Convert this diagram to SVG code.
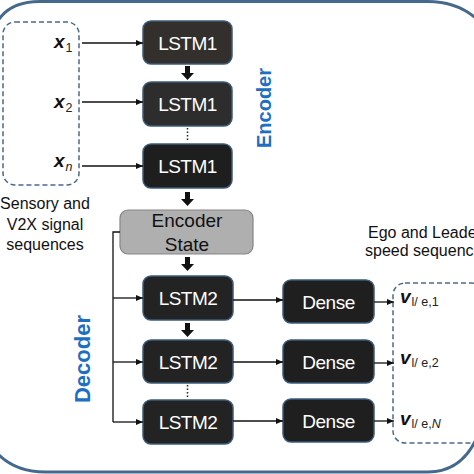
<svg xmlns="http://www.w3.org/2000/svg" width="474" height="474" viewBox="0 0 474 474">
<style>
.frame{fill:none;stroke:#45698c;stroke-width:3}
.dash{fill:none;stroke:#4a6a8a;stroke-width:1.5;stroke-dasharray:5,3}
.blk{stroke:#3b5c7c;stroke-width:1.5}
.bt{font-family:"Liberation Sans",Arial,sans-serif;font-size:19px;fill:#ffffff;text-anchor:middle;letter-spacing:-0.5px}
.st{font-family:"Liberation Sans",Arial,sans-serif;font-size:19px;fill:#111;text-anchor:middle}
.lbl{font-family:"Liberation Sans",Arial,sans-serif;font-size:16px;fill:#111;text-anchor:middle}
.lbl2{font-family:"Liberation Sans",Arial,sans-serif;font-size:16px;fill:#111}
.vx{font-family:"Liberation Sans",Arial,sans-serif;font-weight:bold;font-style:italic;font-size:19px;fill:#111}
.sub{font-size:12.5px;font-weight:normal;font-style:normal;fill:#222}
.subi{font-style:italic}
.blue{font-family:"Liberation Sans",Arial,sans-serif;font-weight:bold;fill:#1d6fc1;text-anchor:middle}
.ln{fill:none;stroke:#111;stroke-width:1.3}
.dot{fill:none;stroke:#222;stroke-width:1.5;stroke-dasharray:1.5,2}
</style>
<defs>
<marker id="ah" markerWidth="8" markerHeight="8" refX="7" refY="4" orient="auto" markerUnits="userSpaceOnUse">
<path d="M0,1 L7,4 L0,7 Z" fill="#111"/>
</marker>
<path id="thick" d="M-2.5,0 H2.5 V7 H6.5 L0,14 L-6.5,7 H-2.5 Z" fill="#111"/>
</defs>

<path class="frame" d="M-4,24 C4,9 18,1.5 40,1.5 L428,1.5 C450,1.5 466,8 480,22 L480,430 C470,458 452,472 428,472 L45,472 C24,472 8,465 -4,452 Z"/>

<g id="inputs">
<rect class="dash" x="3" y="22" width="76" height="163" rx="12"/>
<text class="vx" x="54" y="48">x<tspan class="sub" dx="1" dy="3.5">1</tspan></text>
<text class="vx" x="54" y="108">x<tspan class="sub" dx="1" dy="3.5">2</tspan></text>
<text class="vx" x="54" y="167">x<tspan class="sub subi" dx="1" dy="3.5">n</tspan></text>
<text class="lbl" x="45" y="209">Sensory and</text>
<text class="lbl" x="45" y="230">V2X signal</text>
<text class="lbl" x="45" y="250">sequences</text>
</g>

<g id="lstm1-1"><rect class="blk" x="143" y="21" width="89" height="43" rx="8" fill="#332f2d"/><text class="bt" x="187.5" y="49.5">LSTM1</text></g>
<g id="lstm1-2"><rect class="blk" x="143" y="82" width="89" height="44" rx="8" fill="#2d2d2d"/><text class="bt" x="187.5" y="111">LSTM1</text></g>
<g id="lstm1-n"><rect class="blk" x="143" y="144" width="89" height="44" rx="8" fill="#1e1e1e"/><text class="bt" x="187.5" y="173">LSTM1</text></g>
<g id="encoder-label"><text class="blue" font-size="20" transform="translate(271,108) rotate(-90)">Encoder</text></g>

<g id="encoder-state"><rect x="120" y="210" width="133" height="44" rx="8" fill="#afafaf" stroke="#858585" stroke-width="1.2"/><text class="st" x="187" y="227">Encoder</text><text class="st" x="187" y="251">State</text></g>

<g id="lstm2-1"><rect class="blk" x="143" y="276" width="90" height="44" rx="8" fill="#232323"/><text class="bt" x="188" y="305">LSTM2</text></g>
<g id="lstm2-2"><rect class="blk" x="143" y="340" width="90" height="43" rx="8" fill="#232323"/><text class="bt" x="188" y="368.5">LSTM2</text></g>
<g id="lstm2-n"><rect class="blk" x="143" y="400" width="90" height="44" rx="8" fill="#232323"/><text class="bt" x="188" y="429">LSTM2</text></g>
<g id="decoder-label"><text class="blue" font-size="22" transform="translate(90,359) rotate(-90)">Decoder</text></g>

<g id="dense-1"><rect class="blk" x="283" y="280" width="91" height="43" rx="8" fill="#1f1f1f"/><text class="bt" x="328.5" y="308.5">Dense</text></g>
<g id="dense-2"><rect class="blk" x="283" y="340" width="91" height="43" rx="8" fill="#1f1f1f"/><text class="bt" x="328.5" y="368.5">Dense</text></g>
<g id="dense-n"><rect class="blk" x="283" y="399" width="91" height="43" rx="8" fill="#1f1f1f"/><text class="bt" x="328.5" y="427.5">Dense</text></g>

<g id="outputs">
<text class="lbl2" x="368" y="238">Ego and Leader</text>
<text class="lbl2" x="365" y="256">speed sequences</text>
<rect class="dash" x="393" y="283" width="90" height="160" rx="12"/>
<text class="vx" x="400" y="303">v<tspan class="sub" dx="1" dy="3">l/ e,1</tspan></text>
<text class="vx" x="400" y="364">v<tspan class="sub" dx="1" dy="3">l/ e,2</tspan></text>
<text class="vx" x="400" y="425">v<tspan class="sub" dx="1" dy="3">l/ e,</tspan><tspan class="sub subi">N</tspan></text>
</g>

<g id="connectors">
<line class="ln" x1="82" y1="43" x2="143" y2="43" marker-end="url(#ah)"/>
<line class="ln" x1="82" y1="102" x2="143" y2="102" marker-end="url(#ah)"/>
<line class="ln" x1="82" y1="166" x2="143" y2="166" marker-end="url(#ah)"/>
<use href="#thick" x="187.5" y="66"/>
<line class="dot" x1="187.5" y1="128" x2="187.5" y2="142"/>
<use href="#thick" x="187.5" y="192"/>
<use href="#thick" x="187.5" y="257"/>
<use href="#thick" x="187.5" y="323"/>
<line class="dot" x1="187.5" y1="385" x2="187.5" y2="398"/>
<path class="ln" d="M120,232 H113 V422"/>
<line class="ln" x1="113" y1="298" x2="143" y2="298" marker-end="url(#ah)"/>
<line class="ln" x1="113" y1="362" x2="143" y2="362" marker-end="url(#ah)"/>
<line class="ln" x1="113" y1="422" x2="143" y2="422" marker-end="url(#ah)"/>
<line class="ln" x1="233" y1="300" x2="283" y2="300" marker-end="url(#ah)"/>
<line class="ln" x1="233" y1="362" x2="283" y2="362" marker-end="url(#ah)"/>
<line class="ln" x1="233" y1="421" x2="283" y2="421" marker-end="url(#ah)"/>
<line class="ln" x1="374" y1="302" x2="394" y2="302" marker-end="url(#ah)"/>
<line class="ln" x1="374" y1="363" x2="394" y2="363" marker-end="url(#ah)"/>
<line class="ln" x1="374" y1="421" x2="394" y2="421" marker-end="url(#ah)"/>
</g>
</svg>
